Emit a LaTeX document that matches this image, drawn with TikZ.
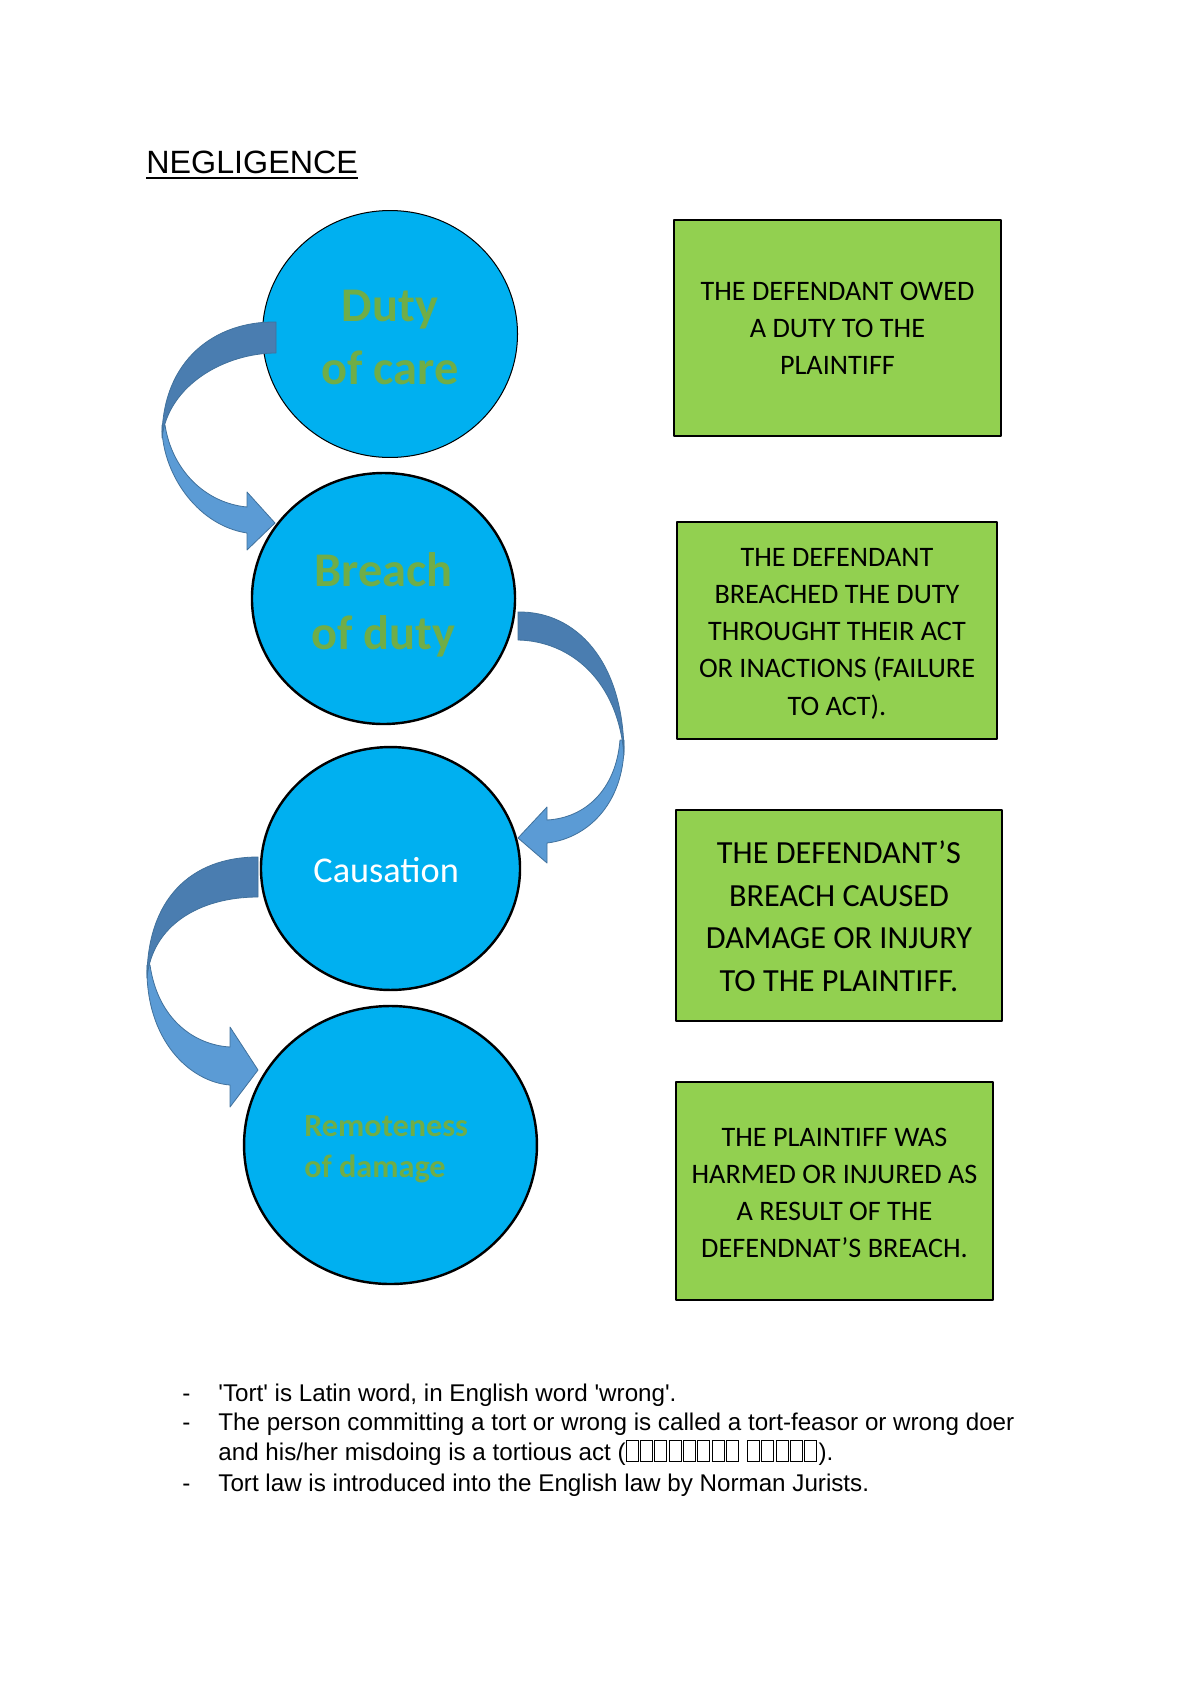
\documentclass[tikz,border=0pt]{standalone}
\usepackage{fontspec}
\setmainfont{Liberation Sans}
\newfontfamily\calibri{Carlito}
\usetikzlibrary{shapes.geometric}
\definecolor{stageblue}{HTML}{00B0F0}
\definecolor{stagegreen}{HTML}{70AD47}
\definecolor{factgreen}{HTML}{92D050}
\definecolor{turndark}{HTML}{4A7DB0}
\definecolor{turnlight}{HTML}{5B9BD5}
\definecolor{turnedge}{HTML}{41719C}
\newcommand{\tofu}{{\setlength{\fboxsep}{0pt}\setlength{\fboxrule}{0.45pt}\fbox{\rule[-0.6pt]{0pt}{10pt}\hspace{5.5pt}}}\kern0.7pt}
\newcommand{\tofus}[1]{\foreach \i in {1,...,#1}{\tofu}}
\newcommand{\lift}[1]{\rule{0pt}{#1}}

\begin{document}
\begin{tikzpicture}[x=0.49606pt,y=-0.49606pt,line join=round,
  every node/.style={inner sep=0pt},
  stage/.style={ellipse,draw=black,fill=stageblue,line width=1.2pt,align=center,text=stagegreen,font=\calibri\bfseries\fontsize{24}{31.2}\selectfont},
  fact/.style={rectangle,draw=black,fill=factgreen,line width=1pt,align=center,font=\calibri\fontsize{14}{18.4}\selectfont},
  backturn/.style={fill=turndark,draw=turnedge,line width=0.4pt},
  frontturn/.style={fill=turnlight,draw=turnedge,line width=0.4pt},
  note/.style={anchor=base west,font=\fontsize{12}{14.9}\selectfont}]
  \useasboundingbox (0,0) rectangle (1200,1698);

  \node (title) [anchor=base west,font=\fontsize{16}{19}\selectfont] at (146,173) {NEGLIGENCE};
  \draw[line width=1pt] ([yshift=-2.5pt]title.base west) -- ([yshift=-2.5pt]title.base east);

  \node (duty) [stage,line width=0.5pt,minimum width=126.5pt,minimum height=122.5pt] at (390,334) {\lift{18.8pt}Duty\\of care};
  \node (breach) [stage,minimum width=130.5pt,minimum height=124.5pt] at (383.5,598.5) {\lift{23.2pt}Breach\\of duty};
  \node (cause) [stage,minimum width=128.5pt,minimum height=120.5pt,text=white,font=\calibri\fontsize{18}{22}\selectfont] at (390.5,868.5) {\lift{13.8pt}Causation\hspace*{4.3pt}};
  \node (remote) [stage,minimum width=145.3pt,minimum height=137.9pt,align=left,font=\calibri\bfseries\fontsize{16}{20.3}\selectfont] at (390.5,1145) {\lift{14.8pt}Remoteness\hspace*{4.3pt}\\of damage};

  \node (owed) [fact,minimum width=162.2pt,minimum height=107.1pt] at (837.5,328) {THE DEFENDANT OWED\\A DUTY TO THE\\PLAINTIFF};
  \node (breached) [fact,minimum width=158.7pt,minimum height=107.6pt] at (837,630.5) {\lift{12.2pt}THE DEFENDANT\\BREACHED THE DUTY\\THROUGHT THEIR ACT\\OR INACTIONS (FAILURE\\TO ACT).};
  \node (caused) [fact,minimum width=161.7pt,minimum height=104.7pt,font=\calibri\fontsize{16}{21.3}\selectfont] at (839,915.5) {\lift{12pt}THE DEFENDANT’S\\BREACH CAUSED\\DAMAGE OR INJURY\\TO THE PLAINTIFF.};
  \node (harmed) [fact,minimum width=157.3pt,minimum height=108.1pt] at (834.5,1191) {\lift{11pt}THE PLAINTIFF WAS\\HARMED OR INJURED AS\\A RESULT OF THE\\DEFENDNAT’S BREACH.};

  \path[frontturn] (162,425) .. controls (161,470) and (195,525) .. (247,533) -- (247,550) -- (275,523) -- (247,492) -- (247,507) .. controls (205,503) and (172,470) .. (165,425) -- cycle;
  \path[backturn] (276,322) .. controls (215,321) and (162,360) .. (162,438) .. controls (168,385) and (225,353) .. (276,353) -- cycle;

  \path[frontturn] (624,740) .. controls (626,800) and (590,838) .. (547,843) -- (547,863) -- (518,838) -- (547,807) -- (547,820) .. controls (585,818) and (616,790) .. (620,740) -- cycle;
  \path[backturn] (518,612) .. controls (575,611) and (624,660) .. (624,755) .. controls (618,680) and (570,641) .. (518,640) -- cycle;

  \path[frontturn] (147,965) .. controls (145,1040) and (190,1082) .. (230,1085) -- (230,1107) -- (258,1070) -- (230,1027) -- (230,1047) .. controls (195,1045) and (158,1020) .. (150,965) -- cycle;
  \path[backturn] (258,857) .. controls (190,857) and (147,900) .. (147,978) .. controls (152,925) and (200,897) .. (258,897) -- cycle;

  \foreach \y/\n in {1401/1,1430/2,1491/3}
    \node (dash\n) [note] at (182,\y) {-};
  \node (line1) [note] at (218,1401) {\textquotesingle Tort\textquotesingle{} is Latin word, in English word \textquotesingle wrong\textquotesingle.};
  \node (line2) [note] at (218,1430) {The person committing a tort or wrong is called a tort-feasor or wrong doer};
  \node (line3) [note] at (218,1460) {and his/her misdoing is a tortious act (\tofus{8} \tofus{5}).};
  \node (line4) [note] at (218,1491) {Tort law is introduced into the English law by Norman Jurists.};
\end{tikzpicture}
\end{document}
